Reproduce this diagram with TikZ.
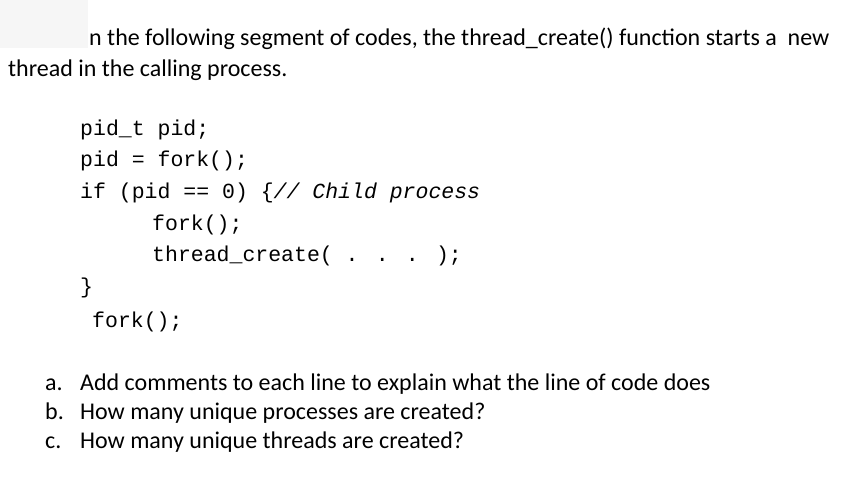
\documentclass[tikz,border=0pt]{standalone}
\usepackage{fontspec}
\setmainfont{Carlito}
\newfontfamily\codefont{Liberation Mono}
\begin{document}
\begin{tikzpicture}[x=1pt,y=-1pt,
  txt/.style={anchor=base west,inner sep=0pt,font=\fontsize{24}{27}\selectfont},
  code/.style={anchor=base west,inner sep=0pt,font=\codefont\fontsize{21.5}{24}\selectfont}]
\useasboundingbox[fill=white] (0,0) rectangle (861,490);
\fill[gray!7] (0,0) rectangle (88,48);
\node[txt] (l1) at (89,45) {n the following segment of codes, the thread\_create() function starts a\ \ new};
\node[txt] (l2) at (8,76) {thread in the calling process.};
\node[code] (c1) at (80,135) {pid\_t pid;};
\node[code] (c2) at (80,166) {pid = fork();};
\node[code] (c3) at (80,198) {if (pid == 0) \{\textit{// Child process}};
\node[code] (c4) at (152,230) {fork();};
\node[code] (c5) at (152,261) {thread\_create( . . . );};
\node[code] (c6) at (80,293) {\}};
\node[code] (c7) at (92,327) {fork();};
\node[txt] (a1) at (45,390) {a.};
\node[txt] (a2) at (80,390) {Add comments to each line to explain what the line of code does};
\node[txt] (b1) at (45,419) {b.};
\node[txt] (b2) at (80,419) {How many unique processes are created?};
\node[txt] (d1) at (45,448) {c.};
\node[txt] (d2) at (80,448) {How many unique threads are created?};
\end{tikzpicture}
\end{document}
